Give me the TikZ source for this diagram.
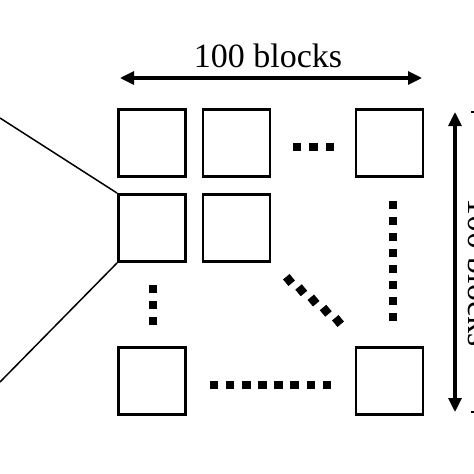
\documentclass[tikz,border=0pt]{standalone}
\usepackage{fontspec}
\setmainfont{Liberation Serif}
\usetikzlibrary{arrows.meta}
\begin{document}
\begin{tikzpicture}[x=1pt,y=-1pt,
  blockbox/.style={draw,line width=2.8pt,minimum size=67pt,inner sep=0pt},
  dotsq/.style={fill=black,minimum size=8.5pt,inner sep=0pt},
  dimarrow/.style={line width=3.2pt,{Triangle[length=14pt,width=13pt]}-{Triangle[length=14pt,width=13pt]}},
  thinline/.style={line width=1.5pt},
  lbl/.style={font=\fontsize{34}{40}\selectfont,inner sep=0pt}]
\useasboundingbox (0,0) rectangle (474,474);
% blocks
\node[blockbox] (b11) at (152,143) {};
\node[blockbox] (b12) at (236.5,143) {};
\node[blockbox] (b13) at (389.5,143) {};
\node[blockbox] (b21) at (152,228) {};
\node[blockbox] (b22) at (236.5,228) {};
\node[blockbox] (b31) at (152,381) {};
\node[blockbox] (b33) at (389.5,381) {};
% dots
\foreach \i/\x in {1/297,2/313.5,3/330}
  \node[dotsq] (dt\i) at (\x,147) {};
\foreach \i in {0,...,7}
  \node[dotsq] (dr\i) at (393,205+16*\i) {};
\foreach \i in {0,1,2}
  \node[dotsq] (dl\i) at (153,289+16*\i) {};
\foreach \i in {0,...,7}
  \node[dotsq] (db\i) at (214+16.14*\i,385) {};
\foreach \i in {0,...,4}
  \node[dotsq,rotate=40] (dd\i) at (289+12.25*\i,280+10.25*\i) {};
% left connector lines
\coordinate (lt) at (0,118);
\coordinate (lb) at (0,382);
\draw[thinline] (lt) -- (b21.north west);
\draw[thinline] (b21.south west) -- (lb);
% dimension arrows
\coordinate (ha) at (120,78);
\coordinate (hb) at (422,78);
\draw[dimarrow] (ha) -- (hb);
\node[lbl,anchor=base] (toplbl) at (268,67) {100 blocks};
\coordinate (va) at (455,112);
\coordinate (vb) at (455,412);
\draw[dimarrow] (va) -- (vb);
\node[lbl,anchor=base west,rotate=-90] (sidelbl) at (468.5,198) {100 blocks};
\coordinate (t1a) at (471,112); \coordinate (t1b) at (474,112);
\coordinate (t2a) at (471,412); \coordinate (t2b) at (474,412);
\draw[line width=1.5pt] (t1a) -- (t1b);
\draw[line width=1.5pt] (t2a) -- (t2b);
\end{tikzpicture}
\end{document}
